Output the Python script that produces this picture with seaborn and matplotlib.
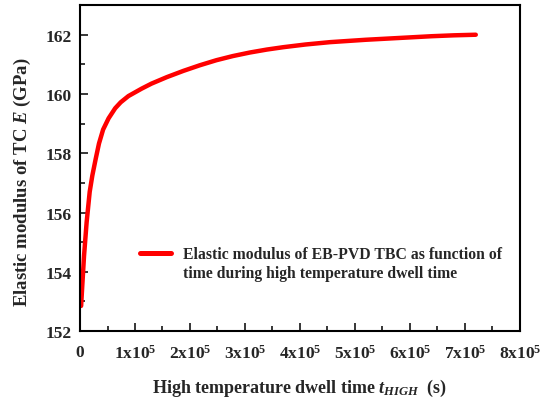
import numpy as np
import pandas as pd
import matplotlib
matplotlib.use("Agg")
import matplotlib.pyplot as plt
from matplotlib.lines import Line2D
from matplotlib.ticker import MultipleLocator, FuncFormatter
import seaborn as sns

# values
dwell_time = [2e3, 4e3, 7.3e3, 1.2e4, 1.76e4, 2.24e4, 2.85e4, 3.45e4, 4.2e4,
              5.2e4, 6.4e4, 7.4e4, 8.8e4, 1.12e5, 1.30e5, 1.58e5, 1.88e5, 2.18e5,
              2.48e5, 2.78e5, 3.09e5, 3.4e5, 3.7e5, 4.1e5, 4.55e5, 5.2e5,
              5.8e5, 6.4e5, 6.8e5, 7.2e5]
modulus = [152.85, 153.5, 154.54, 155.67, 156.7, 157.25, 157.81, 158.33, 158.8,
           159.18, 159.52, 159.72, 159.93, 160.18, 160.35, 160.57, 160.78, 160.97,
           161.14, 161.28, 161.4, 161.5, 161.58, 161.67, 161.75, 161.83,
           161.89, 161.95, 161.98, 162.0]
legend_lines = ["Elastic modulus of EB-PVD TBC as function of",
                "time during high temperature dwell time"]

sns.set_style("ticks")
plt.rcParams["font.family"] = ["Liberation Serif", "DejaVu Serif"]
plt.rcParams["font.weight"] = "bold"
plt.rcParams["mathtext.fontset"] = "custom"
plt.rcParams["mathtext.rm"] = "Liberation Serif:bold"
plt.rcParams["mathtext.it"] = "Liberation Serif:italic:bold"
plt.rcParams["mathtext.bf"] = "Liberation Serif:bold"

df = pd.DataFrame({"t": dwell_time, "E": modulus})

fig = plt.figure(figsize=(5.5, 4.06), dpi=100)
ax = fig.add_axes([0.1455, 0.182, 0.7995, 0.803])

sns.lineplot(data=df, x="t", y="E", color="#ff0000", linewidth=3.2, ax=ax)
for ln in ax.get_lines():
    ln.set_solid_capstyle("round")
    ln.set_solid_joinstyle("round")

ax.set_xlim(0, 8e5)
ax.set_ylim(152, 163)
ax.xaxis.set_major_locator(MultipleLocator(1e5))
ax.xaxis.set_minor_locator(MultipleLocator(0.5e5))
ax.yaxis.set_major_locator(MultipleLocator(2))
ax.yaxis.set_minor_locator(MultipleLocator(1))


def xfmt(v, pos):
    if v == 0:
        return "0"
    return f"{int(round(v / 1e5))}x10$^5$"


ax.xaxis.set_major_formatter(FuncFormatter(xfmt))
ax.yaxis.set_major_formatter(FuncFormatter(lambda v, p: f"{int(v)}"))

ax.tick_params(which="both", direction="in", width=1.3, top=False, right=False)
ax.tick_params(which="major", length=6, labelsize=12.5, pad=6)
ax.tick_params(which="minor", length=3.5)
ax.tick_params(axis="x", pad=9)
for s in ax.spines.values():
    s.set_linewidth(1.5)
    s.set_color("black")
    s.set_visible(True)

ax.set_xlabel(r"High temperature dwell time $t_{HIGH}$  (s)", fontsize=13,
              fontweight="bold", labelpad=11)
ax.set_ylabel(r"Elastic modulus of TC $E$ (GPa)", fontsize=13.5,
              fontweight="bold", labelpad=6)
ax.yaxis.set_label_coords(-0.106, 0.46)

# legend: red handle next to the first text line only
main_line = ax.get_lines()[0]
blank = Line2D([], [], alpha=0)
leg = ax.legend(handles=[main_line, blank], labels=legend_lines,
                loc="upper left", bbox_to_anchor=(0.121, 0.279), frameon=False,
                handlelength=2.0, handletextpad=0.8, labelspacing=0.15,
                borderaxespad=0,
                prop={"family": "Liberation Serif", "weight": "bold", "size": 11.3})
leg.get_lines()[0].set_linewidth(3.6)

fig.savefig("out.png", dpi=100)
